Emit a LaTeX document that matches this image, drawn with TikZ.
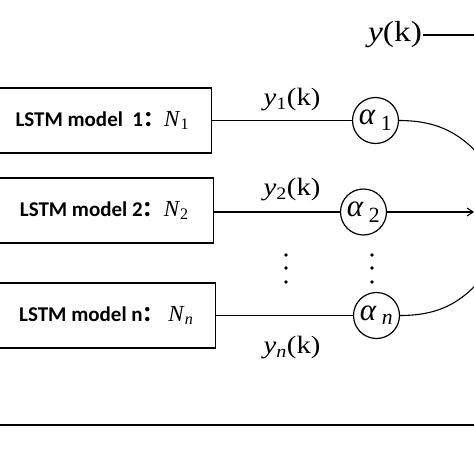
\documentclass[tikz,border=0pt]{standalone}
\usepackage{amsmath}
\usepackage{graphicx}
\usepackage{fontspec}
\setmainfont{Liberation Serif}
\newfontfamily\lblfont{Carlito}
\newfontfamily\cjk{Noto Sans CJK SC}
\usetikzlibrary{arrows.meta}
\newcommand{\idx}[1]{$_{\text{#1}}$}
\newcommand{\wide}[1]{\scalebox{1.15}[1]{#1}}

\begin{document}
\begin{tikzpicture}[x=1pt, y=-1pt,
    model/.style={draw, line width=1.4pt, minimum width=218pt, minimum height=65pt, anchor=east, font=\lblfont\bfseries\fontsize{21}{24}\selectfont},
    wgt/.style={draw, circle, line width=1.2pt, minimum size=46pt, inner sep=0pt, font=\fontsize{31}{33}\selectfont},
    sig/.style={font=\fontsize{25}{28}\selectfont, inner sep=1pt},
    conn/.style={line width=1.1pt},
    vdot/.style={circle, fill, inner sep=0pt, minimum size=3.6pt},
]
    \useasboundingbox (0,0) rectangle (474,474);
    \clip (0,0) rectangle (474,474);

    % output
    \node[sig, font=\fontsize{29}{32}\selectfont] (yk) at (395,35) {\wide{\textit{y}(k)}};
    \coordinate (ykr) at (480,35);
    \draw[conn] (yk) -- (ykr);

    % models
    \node[model] (m1) at (212,120.5) {LSTM model\ \ 1{\cjk ：}{\normalfont\fontsize{23}{26}\selectfont\textit{N}\idx{1}}};
    \node[model] (m2) at (214,210.5) {LSTM model 2{\cjk ：}{\normalfont\fontsize{23}{26}\selectfont\textit{N}\idx{2}}};
    \node[model] (mn) at (216,315.5) {LSTM model n{\cjk ：}\ {\normalfont\fontsize{23}{26}\selectfont\textit{N}$_{\textit{n}}$}};

    % weights
    \node[wgt] (a1) at (375.5,120.5) {\textit{α}\,\idx{1}};
    \node[wgt] (a2) at (363.5,212) {\textit{α}\,\idx{2}};
    \node[wgt] (an) at (376.5,315.5) {\textit{α}\,$_{\textit{n}}$};

    \node[sig] (y1) at (292,100) {\wide{\textit{y}\idx{1}(k)}};
    \node[sig] (y2) at (292,190) {\wide{\textit{y}\idx{2}(k)}};
    \node[sig] (yn) at (292,348) {\wide{\textit{y}$_{\textit{n}}$(k)}};

    \draw[conn] (m1) -- (a1);
    \draw[conn] (m2.east |- a2) -- (a2);
    \draw[conn] (mn) -- (an);

    \foreach \yy in {255,268,282} {
        \node[vdot] (dl\yy) at (286,\yy) {};
        \node[vdot] (dr\yy) at (372,\yy) {};
    }

    % into the sum
    \coordinate (a2r) at (474,212);
    \coordinate (c1) at (490,168);
    \coordinate (cn) at (490,268);
    \draw[conn, -{Straight Barb[length=6pt, width=8pt]}] (a2) -- (a2r);
    \draw[conn] (a1.east) .. controls (440,120.5) and (465,135) .. (c1);
    \draw[conn] (an.east) .. controls (440,315.5) and (465,302) .. (cn);

    \coordinate (bl) at (0,425);
    \coordinate (br) at (474,425);
    \draw[line width=2pt] (bl) -- (br);
\end{tikzpicture}
\end{document}
